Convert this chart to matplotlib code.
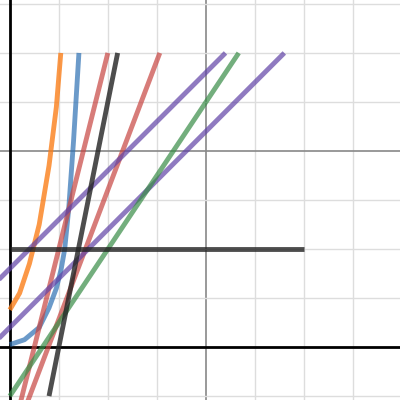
import matplotlib
matplotlib.use("Agg")
import matplotlib.pyplot as plt

black_h_x = [0, 6]; black_h_y = [2, 2]
black_s_x = [0.8, 2.2]; black_s_y = [-1, 6]
green_x = [0, 4.67]; green_y = [-1, 6]
purple1_x = [-0.3, 4.4]; purple1_y = [1.3, 6]
purple2_x = [-0.3, 5.6]; purple2_y = [0.1, 6]
red1_x = [0.2, 2.0]; red1_y = [-1.2, 6]
red2_x = [0.33, 3.06]; red2_y = [-1.2, 6]
orange_x = [0.0, 0.2, 0.4, 0.6, 0.8, 0.95, 1.04]
orange_y = [0.76, 1.1, 1.7, 2.5, 3.7, 4.9, 6.0]
blue_x = [0.0, 0.3, 0.6, 0.8, 0.95, 1.05, 1.12, 1.2, 1.3, 1.41]
blue_y = [0.05, 0.15, 0.4, 0.8, 1.2, 1.6, 2.0, 2.8, 4.2, 6.0]

fig = plt.figure(figsize=(4, 4), dpi=100)
ax = fig.add_axes([0, 0, 1, 1])
ax.set_xlim(-0.2, 7.96)
ax.set_ylim(-1.08, 7.08)
for v in range(0, 9):
    c, lw = ('#888888', 1.2) if v == 4 else ('#dddddd', 1)
    ax.axvline(v, color=c, lw=lw, zorder=0)
for v in range(-1, 8):
    c, lw = ('#888888', 1.2) if v == 4 else ('#dddddd', 1)
    ax.axhline(v, color=c, lw=lw, zorder=0)
ax.axvline(0, color='black', lw=2, zorder=1)
ax.axhline(0, color='black', lw=2, zorder=1)

lw = 3.5
ax.plot(orange_x, orange_y, color='#fa7e19', lw=lw, alpha=0.8, solid_capstyle='butt')
ax.plot(blue_x, blue_y, color='#2d70b3', lw=lw, alpha=0.7, solid_capstyle='butt')
ax.plot(red1_x, red1_y, color='#c74440', lw=lw, alpha=0.7, solid_capstyle='butt')
ax.plot(red2_x, red2_y, color='#c74440', lw=lw, alpha=0.7, solid_capstyle='butt')
ax.plot(purple1_x, purple1_y, color='#6042a6', lw=lw, alpha=0.7, solid_capstyle='butt')
ax.plot(purple2_x, purple2_y, color='#6042a6', lw=lw, alpha=0.7, solid_capstyle='butt')
ax.plot(green_x, green_y, color='#388c46', lw=lw, alpha=0.7, solid_capstyle='butt')
ax.plot(black_s_x, black_s_y, color='#222222', lw=lw, alpha=0.8, solid_capstyle='butt')
ax.plot(black_h_x, black_h_y, color='#222222', lw=lw, alpha=0.8, solid_capstyle='butt')
ax.axis('off')
fig.savefig('out.png')
